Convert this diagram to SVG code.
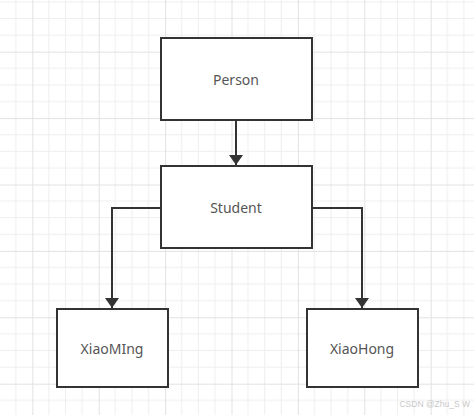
<svg xmlns="http://www.w3.org/2000/svg" width="474" height="415" viewBox="0 0 474 415">
<style>
.box{fill:#fff;stroke:#333;stroke-width:2}
.lbl{font-family:"Noto Sans","Open Sans",sans-serif;font-size:14px;fill:#555;text-anchor:middle}
.conn{fill:none;stroke:#333;stroke-width:2}
.wm{font-family:"Liberation Sans",sans-serif;font-size:8.5px;fill:#c8c8c8;text-anchor:end}
</style>
<defs>
<pattern id="grid" patternUnits="userSpaceOnUse" x="32.3" y="51.7" width="66.4" height="66.4">
<path d="M16.6 0V66.4M33.2 0V66.4M49.8 0V66.4M0 16.6H66.4M0 33.2H66.4M0 49.8H66.4" stroke="#eeeeee" stroke-width="1" fill="none"/>
<path d="M0.5 0V66.4M0 0.5H66.4" stroke="#e2e2e2" stroke-width="1" fill="none"/>
</pattern>
<marker id="arr" viewBox="0 0 10 14" refX="10" refY="7" markerWidth="10" markerHeight="14" markerUnits="userSpaceOnUse" orient="auto">
<path d="M0 0L10 7L0 14Z" fill="#333"/>
</marker>
</defs>
<rect width="474" height="415" fill="#fff"/>
<rect width="474" height="415" fill="url(#grid)"/>
<g id="connectors">
<path class="conn" d="M236 121V165" marker-end="url(#arr)"/>
<path class="conn" d="M161 208H112V308" marker-end="url(#arr)"/>
<path class="conn" d="M312 208H362V308" marker-end="url(#arr)"/>
</g>
<g id="person">
<rect class="box" x="161" y="38" width="151" height="82"/>
<text class="lbl" x="236" y="85">Person</text>
</g>
<g id="student">
<rect class="box" x="161" y="166" width="151" height="82"/>
<text class="lbl" x="236" y="213">Student</text>
</g>
<g id="xiaoming">
<rect class="box" x="57" y="309" width="111" height="78"/>
<text class="lbl" x="112" y="354">XiaoMIng</text>
</g>
<g id="xiaohong">
<rect class="box" x="307" y="309" width="111" height="78"/>
<text class="lbl" x="362" y="354">XiaoHong</text>
</g>
<text class="wm" x="470" y="407">CSDN @Zhu_S W</text>
</svg>
